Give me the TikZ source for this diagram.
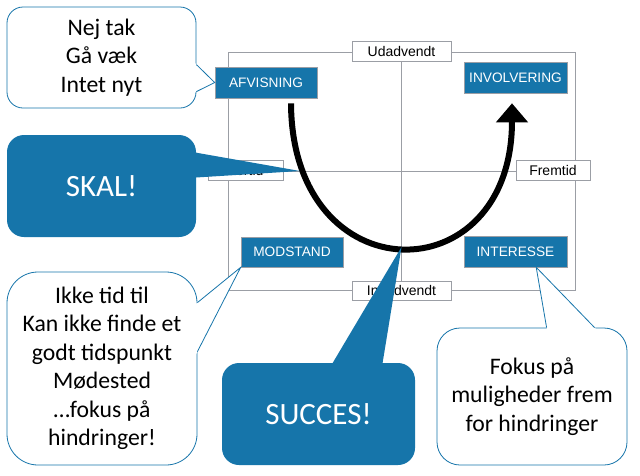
\documentclass[tikz,border=0pt]{standalone}
\usepackage{fontspec}
\setmainfont{Carlito}
\newfontfamily\arialf{Liberation Sans}
\usetikzlibrary{calc,arrows.meta}
\definecolor{bblue}{RGB}{22,117,170}
\definecolor{gline}{RGB}{155,158,165}
\begin{document}
\begin{tikzpicture}[x=1pt,y=-1pt,
  lbl/.style={draw=gline, fill=white, line width=0.8pt, font=\arialf\fontsize{14}{16}\selectfont, inner sep=0pt, minimum height=20pt},
  bbox/.style={draw=gline, fill=bblue, text=white, line width=0.6pt, font=\arialf\fontsize{13.7}{16}\selectfont, inner sep=0pt, minimum height=31pt},
  body/.style={inner sep=0pt, align=center, font=\fontsize{23.7}{28.5}\selectfont},
  wbody/.style={body, draw=bblue, fill=white, line width=0.8pt},
  bigtxt/.style={text=white, font=\fontsize{31}{36}\selectfont},
  wedge/.style={draw=bblue, line width=0.8pt}
]
\useasboundingbox (0,0) rectangle (640,475);
\fill[white] (0,0) rectangle (640,475);

% grid
\node[draw=gline, line width=0.8pt, minimum width=347pt, minimum height=238pt, inner sep=0pt] (grid) at (401.5,171) {};
\draw[gline, line width=0.8pt] (grid.north) -- (grid.south);
\draw[gline, line width=0.8pt] (grid.west) -- (grid.east);

% axis labels
\node[lbl, minimum width=99pt] (ud) at (grid.north) {Udadvendt};
\node[lbl, minimum width=99pt, minimum height=19pt] (ind) at (grid.south) {Indadvendt};
\node[lbl, minimum width=74pt] (frem) at (553,170) {Fremtid};
\node[lbl, minimum width=75pt] (fort) at (245.5,170) {Fortid};

% quadrant boxes
\node[bbox, minimum width=102pt] (afv) at (266,82.5) {AFVISNING};
\node[bbox, minimum width=103pt] (inv) at (515.5,77.5) {INVOLVERING};
\node[bbox, minimum width=102pt, minimum height=30pt] (mod) at (292,252) {MODSTAND};
\node[bbox, minimum width=103pt] (inte) at (515.5,251.5) {INTERESSE};

% curve
\coordinate (cstart) at ($(afv.south)+(25,5)$);
\coordinate (cend) at ($(inv.south)+(-3.5,10)$);
\draw[line width=6pt, -{Triangle[width=31pt,length=19pt]}] (cstart) .. controls ($(cstart)+(1,192)$) and ($(cend)+(0,192)$) .. (cend);
\coordinate (cbot) at ($(grid.center)+(0,76)$);
\coordinate (skaltip) at (300,171);

% callout: Nej tak
\node[wbody, minimum width=189pt, minimum height=101pt, rounded corners=16pt] (nej) at (101.5,57.5) {Nej tak\\Gå væk\\Intet nyt};
\coordinate (n1) at ($(nej.north east)+(0,58)$);
\coordinate (n2) at ($(nej.north east)+(0,85)$);
\fill[white] (afv.west) -- ($(afv.west)!1.2!(n1)$) -- ($(afv.west)!1.2!(n2)$) -- cycle;
\draw[wedge] (n1) -- (afv.west) -- (n2);

% callout: SKAL
\node[body, fill=bblue, minimum width=189pt, minimum height=102pt, rounded corners=17pt, bigtxt] (skal) at (101.5,186) {SKAL!};
\fill[bblue] (skaltip) -- ($(skal.north east)+(-5,17)$) -- ($(skal.north east)+(-5,43)$) -- cycle;

% callout: Ikke tid
\node[wbody, minimum width=190pt, minimum height=193pt, rounded corners=31pt] (ikke) at (102,368.5) {Ikke tid til\\Kan ikke finde et\\godt tidspunkt\\Mødested\\…fokus på\\hindringer!};
\coordinate (i1) at ($(ikke.north east)+(0,31)$);
\coordinate (i2) at ($(ikke.north east)+(0,80)$);
\fill[white] (mod.south west) -- ($(mod.south west)!1.1!(i1)$) -- ($(mod.south west)!1.1!(i2)$) -- cycle;
\draw[wedge] (i1) -- (mod.south west) -- (i2);

% callout: SUCCES
\node[body, fill=bblue, minimum width=193pt, minimum height=102pt, rounded corners=17pt, bigtxt] (succ) at (318.5,414) {SUCCES!};
\fill[bblue] (cbot) -- ($(succ.north west)+(108,5)$) -- ($(succ.north west)+(160,5)$) -- cycle;

% callout: Fokus
\coordinate (ftip) at ($(inte.south west)!0.7!(inte.south east)$);
\node[wbody, minimum width=190pt, minimum height=137pt, rounded corners=23pt] (fok) at (532,396.5) {Fokus på\\muligheder frem\\for hindringer};
\coordinate (f1) at ($(fok.north west)+(110,0)$);
\coordinate (f2) at ($(fok.north west)+(158,0)$);
\fill[white] (ftip) -- ($(ftip)!1.1!(f1)$) -- ($(ftip)!1.1!(f2)$) -- cycle;
\draw[wedge] (f1) -- (ftip) -- (f2);
\end{tikzpicture}
\end{document}
